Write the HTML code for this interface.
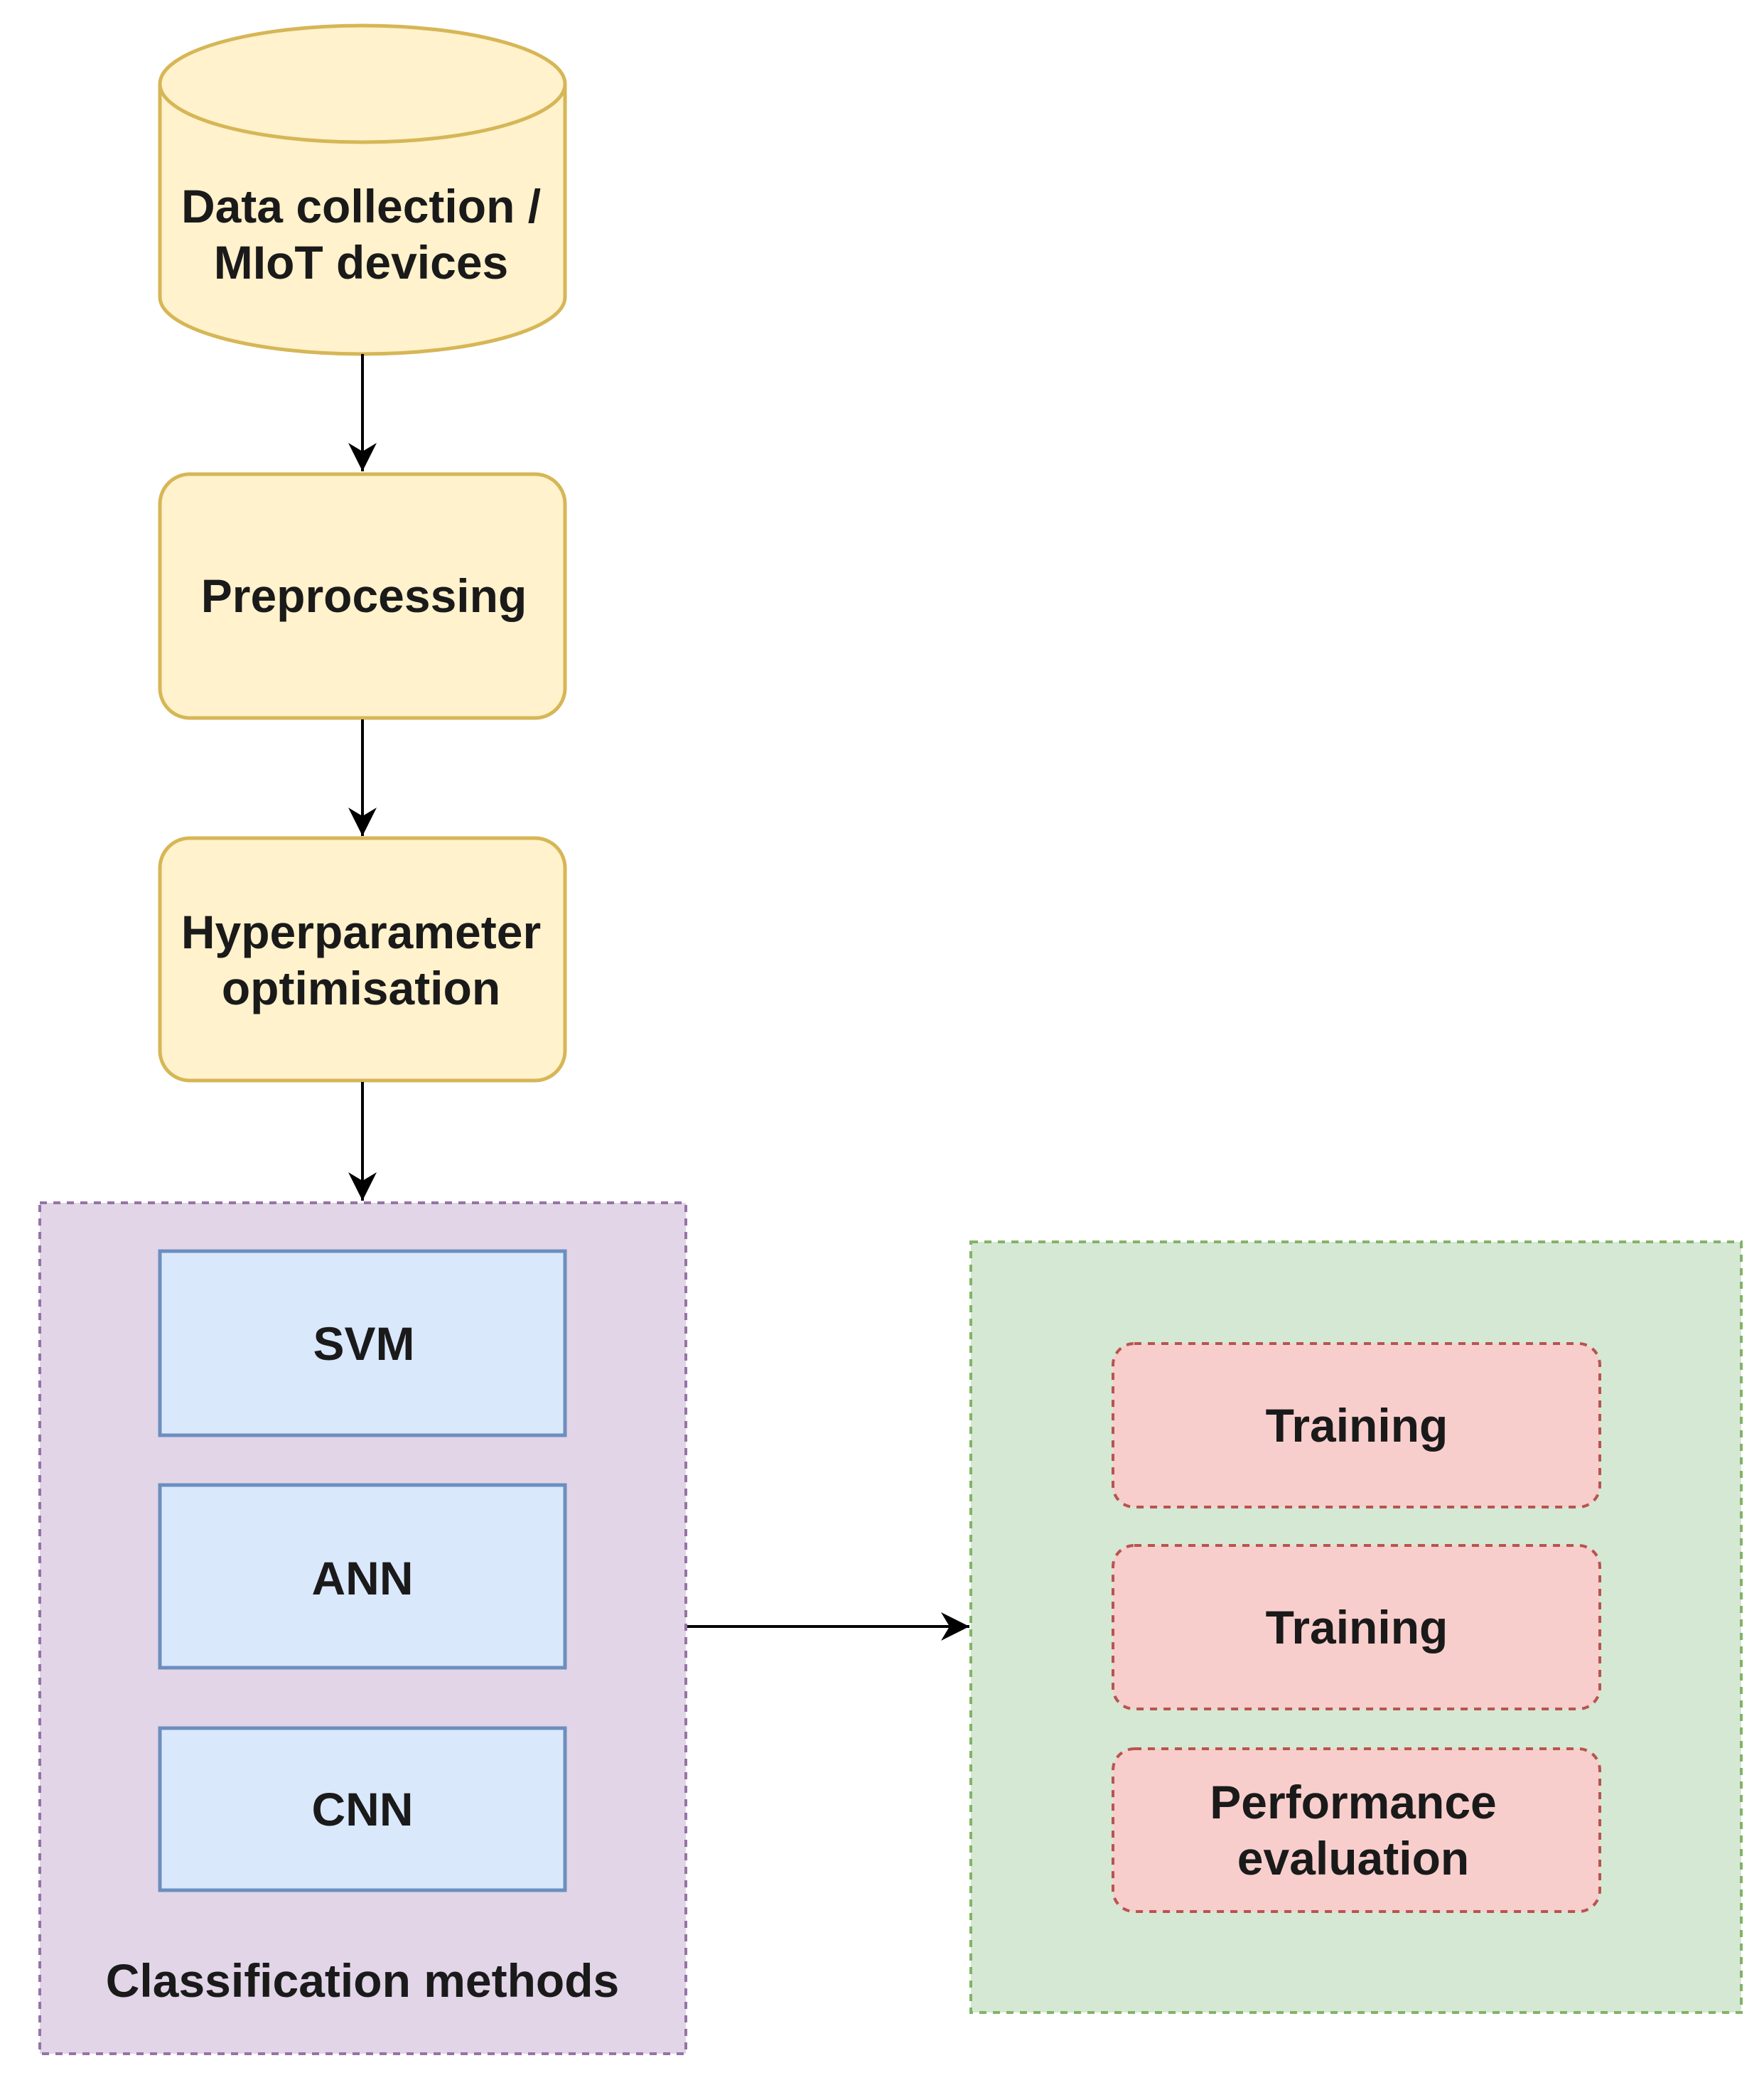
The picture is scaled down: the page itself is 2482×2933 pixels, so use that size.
<!DOCTYPE html>
<html><head><meta charset="utf-8"><style>
body{margin:0;background:#fff;}
svg text{font-family:"Liberation Sans",Arial,sans-serif;font-size:66px;font-weight:bold;fill:#1a1a1a;text-anchor:middle;dominant-baseline:central;}
</style></head><body>
<svg width="2482" height="2928" viewBox="0 0 2482 2928" xmlns="http://www.w3.org/2000/svg">
<defs>
<marker id="b" markerWidth="44" markerHeight="44" refX="40" refY="22" orient="auto" markerUnits="userSpaceOnUse"><path d="M0,2 L40,22 L0,42 L12,22 Z" fill="#000"/></marker></defs>
<path d="M225,118 L225,418 A285,80 0 0 0 795,418 L795,118" fill="#fff2cc" stroke="#d6b656" stroke-width="5"/>
<ellipse cx="510" cy="118" rx="285" ry="82" fill="#fff2cc" stroke="#d6b656" stroke-width="5"/>
<text x="508" y="290">Data collection /</text>
<text x="508" y="369">MIoT devices</text>
<line x1="510" y1="498" x2="510" y2="663" stroke="#000" stroke-width="4" marker-end="url(#b)"/>
<rect x="225" y="667" width="570" height="343" rx="42" fill="#fff2cc" stroke="#d6b656" stroke-width="5"/>
<text x="512" y="838">Preprocessing</text>
<line x1="510" y1="1012" x2="510" y2="1176" stroke="#000" stroke-width="4" marker-end="url(#b)"/>
<rect x="225" y="1179" width="570" height="341" rx="42" fill="#fff2cc" stroke="#d6b656" stroke-width="5"/>
<text x="508" y="1311">Hyperparameter</text>
<text x="508" y="1390">optimisation</text>
<line x1="510" y1="1522" x2="510" y2="1689" stroke="#000" stroke-width="4" marker-end="url(#b)"/>
<rect x="56" y="1692" width="909" height="1197" fill="#e1d5e7" stroke="#9673a6" stroke-width="4" stroke-dasharray="10,9"/>
<rect x="225" y="1760" width="570" height="259" fill="#dae8fc" stroke="#6c8ebf" stroke-width="5"/>
<text x="512" y="1890">SVM</text>
<rect x="225" y="2089" width="570" height="257" fill="#dae8fc" stroke="#6c8ebf" stroke-width="5"/>
<text x="510" y="2220">ANN</text>
<rect x="225" y="2431" width="570" height="228" fill="#dae8fc" stroke="#6c8ebf" stroke-width="5"/>
<text x="510" y="2545">CNN</text>
<text x="510" y="2786">Classification methods</text>
<line x1="967" y1="2288" x2="1364" y2="2288" stroke="#000" stroke-width="4" marker-end="url(#b)"/>
<rect x="1366" y="1747" width="1084" height="1084" fill="#d5e8d4" stroke="#82b366" stroke-width="4" stroke-dasharray="10,9"/>
<rect x="1566" y="1890" width="685" height="230" rx="30" fill="#f8cecc" stroke="#b85450" stroke-width="4" stroke-dasharray="10,9"/>
<text x="1909" y="2005">Training</text>
<rect x="1566" y="2174" width="685" height="230" rx="30" fill="#f8cecc" stroke="#b85450" stroke-width="4" stroke-dasharray="10,9"/>
<text x="1909" y="2289">Training</text>
<rect x="1566" y="2460" width="685" height="229" rx="30" fill="#f8cecc" stroke="#b85450" stroke-width="4" stroke-dasharray="10,9"/>
<text x="1904" y="2535">Performance</text>
<text x="1904" y="2614">evaluation</text>
</svg>
</body></html>
